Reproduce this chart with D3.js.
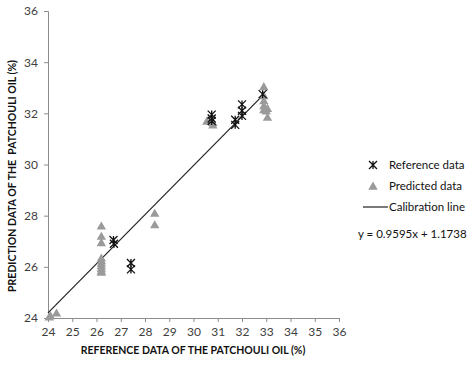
<!DOCTYPE html>
<html><head><meta charset="utf-8">
<script src="https://cdn.jsdelivr.net/npm/d3@7"></script>
<style>body{margin:0;background:#fff}svg{display:block}text{font-family:Lato,"Liberation Sans",sans-serif}</style>
</head><body><svg id="c" width="474" height="369"></svg>
<script>
const xTicks = [24,25,26,27,28,29,30,31,32,33,34,35,36];
const yTicks = [24,26,28,30,32,34,36];
const refX = [26.7,26.72,27.42,27.42,30.75,30.75,30.75,31.72,31.72,32.0,32.0,32.0,32.85];
const refY = [27.05,26.9,26.15,25.9,31.95,31.8,31.7,31.75,31.55,32.35,32.1,31.9,32.75];
const predX = [24.05,24.1,24.35,26.2,26.2,26.2,26.2,26.2,26.2,26.2,26.2,26.2,26.2,28.4,28.4,30.55,30.8,30.8,32.9,32.9,32.9,32.9,32.9,33.0,33.05,33.05];
const predY = [24.05,24.1,24.2,27.6,27.2,26.95,26.35,26.25,26.15,26.05,25.95,25.85,25.8,28.1,27.65,31.7,31.65,31.55,33.05,32.7,32.5,32.3,32.15,32.1,32.2,31.85];
const slope = 0.9595, intercept = 1.1738;
const lineX = [24, 32.9];
const legendLabels = ["Reference data","Predicted data","Calibration line","y = 0.9595x + 1.1738"];

const svg = d3.select("#c");
const x = d3.scaleLinear().domain([24,36]).range([48,339]);
const y = d3.scaleLinear().domain([24,36]).range([318,11]);
const axCol = "#8c8c8c", txtCol = "#404040";

const gx = svg.append("g").attr("transform","translate(0,318)")
  .call(d3.axisBottom(x).tickValues(xTicks).tickSize(4).tickPadding(5).tickFormat(d3.format("d")));
const gy = svg.append("g").attr("transform","translate(48,0)")
  .call(d3.axisLeft(y).tickValues(yTicks).tickSize(4).tickPadding(6).tickFormat(d3.format("d")));
[gx,gy].forEach(g=>{
  g.select(".domain").attr("stroke",axCol);
  g.selectAll(".tick line").attr("stroke",axCol);
  g.selectAll(".tick text").attr("fill",txtCol).style("font-size","12px");
});

svg.append("line")
  .attr("x1",x(lineX[0])).attr("y1",y(slope*lineX[0]+intercept))
  .attr("x2",x(lineX[1])).attr("y2",y(slope*lineX[1]+intercept))
  .attr("stroke","#222").attr("stroke-width",1.2);

const tri = d3.symbol().type(d3.symbolTriangle).size(38);
svg.append("g").selectAll("path").data(predX).join("path")
  .attr("d",tri).attr("fill","#9a9a9a")
  .attr("transform",(d,i)=>`translate(${x(d)},${y(predY[i])+1})`);

function star(g,cx,cy,s){
  g.append("path").attr("d",`M${cx-s},${cy-s}L${cx+s},${cy+s}M${cx+s},${cy-s}L${cx-s},${cy+s}M${cx},${cy-s}L${cx},${cy+s}`)
   .attr("stroke","#111").attr("stroke-width",1.3).attr("fill","none");
}
const gr = svg.append("g");
refX.forEach((d,i)=>star(gr,x(d),y(refY[i]),4));

const lg = svg.append("g");
star(lg,373,165,4);
lg.append("path").attr("d",tri).attr("fill","#9a9a9a").attr("transform","translate(373,187)");
lg.append("line").attr("x1",363).attr("x2",388).attr("y1",207).attr("y2",207).attr("stroke","#222").attr("stroke-width",1.2);
[[389,169],[389,190],[389,211],[358,238]].forEach((p,i)=>{
  lg.append("text").attr("x",p[0]).attr("y",p[1]).attr("fill","#111").style("font-size","11.5px").text(legendLabels[i]);
});

svg.append("text").attr("x",193).attr("y",354).attr("text-anchor","middle")
  .style("font-size","10.5px").style("font-weight","bold").attr("fill","#111")
  .text("REFERENCE DATA OF THE PATCHOULI OIL (%)");
svg.append("text").attr("transform","translate(16,176) rotate(-90)").attr("text-anchor","middle")
  .style("font-size","10.5px").style("font-weight","bold").attr("fill","#111")
  .attr("xml:space","preserve")
  .text("PREDICTION DATA OF THE  PATCHOULI OIL (%)");
</script></body></html>
